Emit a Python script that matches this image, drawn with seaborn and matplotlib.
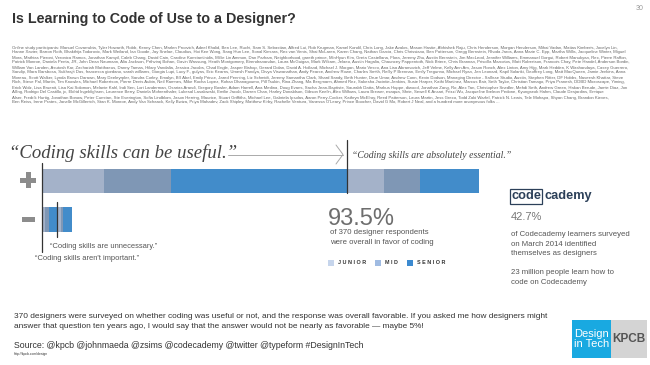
"""Slide: Is Learning to Code of Use to a Designer? (stacked survey bar)."""

import textwrap

import matplotlib

matplotlib.use("Agg")

import matplotlib.pyplot as plt
import matplotlib.transforms as mtransforms
import pandas as pd
import seaborn as sns
from matplotlib.patches import Rectangle

# --- data ------------------------------------------------------------------
rows = ["+", "-"]
levels = ["JUNIOR", "MID", "SENIOR"]
# percent of 370 respondents, by seniority
useful = [13.3, 14.3, 37.8]          # "Coding skills can be useful."
essential = [7.8, 7.7, 12.6]         # "Coding skills are absolutely essential."
unnecessary = [0.7, 0.8, 1.7]        # "Coding skills are unnecessary."
not_important = [0.9, 0.5, 1.9]      # "Coding skills aren't important."

favor_pct = "93.5%"
codecademy_pct = "42.7%"

participants = [
    "Manuel Covarrubia", "Tyler Howarth", "Robb", "Kenny Chen", "Marlen Prcovich", "Adeel Khalid",
    "Ben Lee", "Ruchi", "Sam S. Sebastian", "Alfred Lui", "Rob Krugman", "Kamel Kondil", "Chris Long",
    "Jake Avalos", "Mason Hastie", "Abhishek Raju", "Chris Henderson", "Morgan Henderson", "Mihai Vadan",
    "Matias Kimberis", "Jocelyn Lin", "Hanne Xavier", "Barron Roth", "Bhakthija Todorovic", "Mark Weiland",
    "Ian Goode", "Jay Snelae", "Claudius", "Hoi Kee Wong", "Sang Hun Lee", "Sonal Kinsara", "Rex van Venis",
    "Shai McLaren", "Karen Chang", "Nathan Garcia", "Chris Chrissiano", "Ben Patterson", "Gregg Bernstein",
    "Rhoda Jaros", "Anna Marie C. Epp", "Martha Willis", "Jacqueline Winter", "Miguel Mora", "Mathias Pieroni",
    "Veronica Ramos", "Jonathan Kamyil", "Caleb Chang", "David Cain", "Caroline Konstantinidis",
    "Millie Lin Ammon", "Dan Parham", "Neighborhood", "gareth prince", "MinHyun Kim", "Greta Castellana",
    "Flora", "Jeremy Zhu", "Austin Bernstein", "Jim MacLeod", "Jennifer Williams", "Emmanuel Gorgui",
    "Robert Manukyan", "Rex", "Pierre Raffon", "Patrick Monroe", "Daniela Penta", "JR", "John Dean Naumann",
    "Alia Jackson", "Prthviraj Bohan", "Gavin Wassung", "Heath Montgomery", "Birendranandan",
    "Laura McGuigan", "Mark Wilkam", "Jelaeo", "Austin Hagalia", "Chauncey Pappentoth", "Nick Briere",
    "Chris Brannan", "Priscilla Marcotos", "Matt Robertson", "Francois Chay", "Pete Handel",
    "Anderson Bordin", "William Van Landen", "Asutosh Kar", "Zachariah Matthaeus", "Danny Tamas",
    "Hilary Vandalia", "Jessica Jacobs", "Chad Engle", "Jasper Bishop", "Gerard Dolan", "David A. Holland",
    "Michael J. Morgan", "Mario Vesco", "Ana Lisa Abramovich", "Jeff Velme", "Kelly Ann Am", "Jason Ronch",
    "Alex Linton", "Amy Hijg", "Mark Hedden", "K Washandaya", "Casey Guerrero", "Sandip", "Mara Barsbosa",
    "Sukhrajit Das", "francesca giordano", "sarah williams", "Giorgia Lupi", "Lucy F.", "gulyas",
    "Eric Kearns", "Umesh Pandya", "Divya Viswanathan", "Andy Pearce", "Andrew Rowe", "Charles Smith",
    "Reilly P Brennan", "Emily Tregunno", "Michael Ryan",
    "Jen Leonard", "Kapil Solanki", "Geoffrey Long", "Matt MacQueen", "Jamie Jenkins", "Anna Moreau",
    "Scott Walker", "Lynda Brown Darawn", "Mary Deeleyrpler", "Sandra Corley", "Emalyn", "Bill Abel",
    "Emily Prince", "Jared Penning", "Liz Schmidt", "Jeremy Samantha Clark", "Shard Sandy", "Beth Hunter",
    "Drue Umar", "Andrew Conn", "Kevin Dodson", "Managing Director - Sallisse Studio", "Austin",
    "Stephen Ritter", "DF Hobbs", "Naveesh Khattar", "Steve Rich", "Steve Pal", "Martin", "Tim Knowles",
    "Michael Robertson", "Pierre Denis Aubin", "Neil Ramnes", "Mike Rocha Lopez", "Rohan Dhanagoumo",
    "Pill Tsukin", "Rina Zhang", "Ma Bergmann", "Ahmed Rez", "Sakesha Jacintie-Jenkins", "Susie Harper",
    "Kathi Martinez", "Marcus Bair", "Seth Taylor", "Christian Tamago", "Priya Pranesh", "DDBD Microscape",
    "Yiming", "Erick Wolz", "Lisa Bruenit", "Lisa Kai Solomon", "Melanie Kahl", "Indi Sen", "Lori Landerman",
    "Osarias Arandi", "Gregory Bowler", "Adam Harrell", "Ana Medina", "Doug Evans", "Sacha Jean-Baptiste",
    "Saurabh Datta", "Markus Hoppe", "diwood", "Jonathan Zang", "Ro", "Alex Tan", "Christopher Snedler",
    "Mehdi Seth", "Andrew Green", "Hakan Berude", "Jamie Diaz", "Jon Alling", "Rodrigo Del Castillo", "jc",
    "Eldrid Ingeblighsen", "Laurence Berry", "Daniela Mohrenthaler", "Lukesal Lasalowski", "Emilie Jacob",
    "Darren Chan", "Harley Donaldson", "Gibson Keelin", "Alex Willows", "Laura Brewer", "esaqua", "Shrie",
    "Sewell K Ansari", "Frizzi Wu", "Jacqueline Ibeleon Pedone", "Kyungseok Hahm", "Claude Desjardins",
    "Enrique Alser", "Fredrik Hurtig", "Jonathan Bonow", "Peter Cunstan", "Ste Everington", "Sofia Lindblom",
    "Jason Herring", "Maurice", "Stuart Griffiths", "Michael Lee", "Gabriela Ipsolas", "Aaron Perry-Cocker",
    "Kathryn McElroy", "Reed Patterson", "Laura Martin", "Jess Greco", "Todd Zaki Warfel", "Patrick N. Lewis",
    "Tele Mohapa", "Shyan Chang", "Brandon Kieves", "Ben Reiss", "Irene Prates", "Janelle McGillenich",
    "Stan K. Monroe", "Andy Van Schaack", "Kelly Bwiza", "Priya Mahadev", "Zack Shipley", "Matthew Kirby",
    "Rachelle Ventura", "Vanessa O'Leary", "Prince Boocher", "David G Mo", "Robert J Neal",
]

# --- style -----------------------------------------------------------------
W, H = 650, 365
bar_colors = {"JUNIOR": "#a4b2c9", "MID": "#7f97b5", "SENIOR": "#428cca"}
legend_colors = {"JUNIOR": "#c6d5ec", "MID": "#a0bbe2", "SENIOR": "#3c8ad0"}

sns.set_theme(style="white")
plt.rcParams["font.family"] = ["Liberation Sans", "DejaVu Sans"]

fig = plt.figure(figsize=(W / 100, H / 100), dpi=100)
fig.patch.set_facecolor("white")


def ft(x, y, s, **kw):
    kw.setdefault("va", "center")
    kw.setdefault("ha", "left")
    return fig.text(x / W, 1 - y / H, s, **kw)


def fy(y):
    return 1 - y / H


# header
ft(636, 9, "30", fontsize=5, color="#999999")
ft(12, 19, "Is Learning to Code of Use to a Designer?", fontsize=10.3,
   fontweight="bold", color="#333333")

credits = "Online study participants: " + ", ".join(participants) + ", and a hundred more anonymous folks ..."
for i, line in enumerate(textwrap.wrap(credits, 318)):
    ft(12, 47.5 + i * 5.0, line, fontsize=3.1, color="#666666")

# --- stacked bar -----------------------------------------------------------
segments = []
for row, groups in zip(rows, [(useful, essential), (unnecessary, not_important)]):
    end = 0.0
    k = 0
    for group in groups:
        for level, val in zip(levels, group):
            end += val
            segments.append({"row": row, "seg": k, "level": level, "end": end})
            k += 1
df = pd.DataFrame(segments)

ax = fig.add_axes([42 / W, fy(238.75), 467 / W, 77 / H])
for k in sorted(df["seg"].unique(), reverse=True):
    part = df[df["seg"] == k]
    sns.barplot(data=part, x="end", y="row", order=rows, orient="h",
                color=bar_colors[part["level"].iloc[0]], saturation=1,
                width=0.64, errorbar=None, linewidth=0, ax=ax)
ax.set_xlim(0, 100)
ax.set_ylim(1.5, -0.5)
ax.axis("off")

blend = mtransforms.blended_transform_factory(ax.transData, fig.transFigure)
ax.plot([0, 0], [fy(163), fy(252)], color="#333333", lw=0.9, transform=blend, clip_on=False)
ax.plot([sum(useful)] * 2, [fy(140), fy(193)], color="#333333", lw=0.9, transform=blend, clip_on=False)
ax.plot([sum(unnecessary)] * 2, [fy(202), fy(237)], color="#333333", lw=0.9, transform=blend, clip_on=False)

# arrow from "useful" to "essential"
fig.add_artist(plt.Line2D([228 / W, 343 / W], [fy(154.5)] * 2, color="#aaaaaa", lw=0.7))
fig.add_artist(plt.Line2D([336 / W, 343 / W, 336 / W], [fy(145), fy(154.5), fy(164)],
                          color="#aaaaaa", lw=0.7))

# plus / minus signs
for x0, y0, w, h in [(20, 178, 16, 5), (25.5, 172, 5, 16), (22, 217, 13, 5)]:
    fig.add_artist(Rectangle((x0 / W, fy(y0 + h)), w / W, h / H, color="#8c8c8c", lw=0))

serif = ["Liberation Serif", "DejaVu Serif"]
ft(9, 153, "\u201cCoding skills can be useful.\u201d", fontsize=13.5, style="italic",
   family=serif, color="#444444")
ft(352, 156, "\u201cCoding skills are absolutely essential.\u201d", fontsize=7, style="italic",
   family=serif, color="#444444")
ft(50, 246, "\u201cCoding skills are unnecessary.\u201d", fontsize=5.4, color="#555555")
ft(35, 259, "\u201cCoding skills aren't important.\u201d", fontsize=5.4, color="#555555")

# centre stats + legend
ft(328, 219, favor_pct, fontsize=17, color="#6e6e6e")
ft(330, 232.5, "of 370 designer respondents", fontsize=5.6, color="#555555")
ft(330, 242.5, "were overall in favor of coding", fontsize=5.6, color="#555555")

lx = {"JUNIOR": 328, "MID": 375, "SENIOR": 407}
for level in levels:
    fig.add_artist(Rectangle((lx[level] / W, fy(266)), 6 / W, 6 / H,
                             color=legend_colors[level], lw=0))
    ft(lx[level] + 10, 263, " ".join(level), fontsize=3.9, fontweight="bold", color="#333333")

# codecademy block
logo = ft(511, 196.5, "code", fontsize=9.2, fontweight="bold", color="#2c4059",
          bbox=dict(boxstyle="square,pad=0.1", fc="none", ec="#2c4059", lw=0.9))
ax.annotate("cademy", xy=(1, 0.5), xycoords=logo, xytext=(2.2, 0), textcoords="offset points",
            va="center", ha="left", fontsize=9.2, fontweight="bold", color="#2c4059",
            annotation_clip=False)
ft(511, 217, codecademy_pct, fontsize=8, color="#777777")
for y, s in [(234.5, "of Codecademy learners surveyed"), (244, "on March 2014 identified"),
             (253.5, "themselves as designers"), (273, "23 million people learn how to"),
             (283, "code on Codecademy")]:
    ft(511, y, s, fontsize=5.6, color="#555555")

# footer
ft(14, 316, "370 designers were surveyed on whether coding was useful or not, and the response was "
   "overall favorable. If you asked me how designers might", fontsize=5.95, color="#333333")
ft(14, 327, "answer that question ten years ago, I would say that the answer would not be nearly as "
   "favorable \u2014 maybe 5%!", fontsize=5.95, color="#333333")
ft(14, 345, "Source: @kpcb @johnmaeda @zsims @codecademy @twitter @typeform #DesignInTech",
   fontsize=6.3, color="#333333")
ft(14, 354, "http://kpcb.com/design", fontsize=2.4, color="#333333")

fig.add_artist(Rectangle((572 / W, fy(358)), 39 / W, 38 / H, color="#19a9e1", lw=0))
fig.add_artist(Rectangle((611 / W, fy(358)), 36 / W, 38 / H, color="#d4d4d4", lw=0))
narrow = ["Liberation Sans Narrow", "Liberation Sans"]
ft(591.5, 339, "Design\nin Tech", fontsize=8, color="white", ha="center", family=narrow,
   linespacing=1.1)
ft(629, 339, "KPCB", fontsize=8.5, fontweight="bold", color="#555555", ha="center", family=narrow)

fig.savefig("out.png", dpi=100)
